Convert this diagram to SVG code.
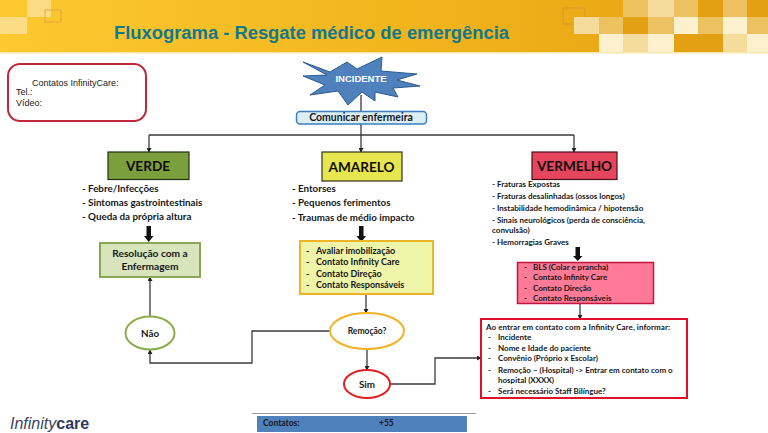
<svg xmlns="http://www.w3.org/2000/svg" width="768" height="433" viewBox="0 0 768 433">
<defs>
<linearGradient id="hdr" x1="0" y1="0" x2="1" y2="0"><stop offset="0" stop-color="#fcc92f"/><stop offset="0.6" stop-color="#f0b21a"/><stop offset="1" stop-color="#e3a010"/></linearGradient>
<marker id="tip" markerWidth="5" markerHeight="5" refX="4" refY="2.5" orient="auto" markerUnits="userSpaceOnUse"><path d="M0 0L4.500 2.500L0 5Z" fill="#222"/></marker>
</defs>
<style>
text{font-family:Lato,"Liberation Sans",sans-serif;font-weight:700;fill:#15181a}
.c{text-anchor:middle}
.line{fill:none;stroke:#3a3a3a;stroke-width:1.300}
.arr{marker-end:url(#tip)}
.head{font-size:13.600px;fill:#120c0c}
.l10{font-size:9.800px}
.l8{font-size:8px}
.l9{font-size:9px}
.reg{font-family:"Liberation Sans",sans-serif;font-weight:400;font-size:9px;fill:#222}
.a{fill:#edc060}.b{fill:#f6dc9c}.d{fill:#e2a012}.e{fill:#fdf0cc}
</style>
<rect width="768" height="433" fill="#fff"/>
<g id="header">
<rect width="768" height="52" fill="url(#hdr)"/>
<rect y="52" width="768" height="1.500" fill="#fbe6b0"/>
<rect x="27" y="0" width="24" height="17" fill="#fbdc85"/>
<rect x="0" y="17" width="27" height="17" fill="#fbdc85"/>
<rect x="45" y="10" width="16" height="12" fill="none" stroke="#e2a545" stroke-width="1"/>
<rect x="563" y="8" width="22" height="16" fill="none" stroke="#d99a30" stroke-width="1"/>
<rect class="a" x="623" y="0" width="25" height="17"/><rect class="b" x="648" y="0" width="26" height="17"/><rect class="a" x="674" y="0" width="24" height="17"/><rect class="d" x="698" y="0" width="25" height="17"/><rect class="a" x="723" y="0" width="24" height="17"/><rect class="d" x="747" y="0" width="21" height="17"/>
<rect class="b" x="574" y="17" width="25" height="17"/><rect class="a" x="599" y="17" width="24" height="17"/><rect class="d" x="623" y="17" width="25" height="17"/><rect class="a" x="648" y="17" width="26" height="17"/><rect class="e" x="674" y="17" width="24" height="17"/><rect class="a" x="698" y="17" width="25" height="17"/><rect class="e" x="723" y="17" width="24" height="17"/><rect class="a" x="747" y="17" width="21" height="17"/>
<rect class="e" x="599" y="34" width="24" height="18"/><rect class="b" x="623" y="34" width="25" height="18"/><rect class="e" x="648" y="34" width="26" height="18"/><rect class="d" x="674" y="34" width="49" height="18"/><rect class="b" x="723" y="34" width="24" height="18"/><rect class="e" x="747" y="34" width="21" height="18"/>
<text x="114" y="39" style="font-family:'Liberation Sans',sans-serif;font-size:18px;fill:#12788c" textLength="395" lengthAdjust="spacingAndGlyphs">Fluxograma - Resgate médico de emergência</text>
</g>
<g id="connectors">
<path class="line" d="M361 95V111"/>
<path class="line" d="M361 124V135"/>
<path class="line" d="M149 135H574"/>
<path class="line arr" d="M149 135V152"/>
<path class="line arr" d="M361 135V152"/>
<path class="line arr" d="M574 135V152"/>
<path class="line arr" d="M366 294V313"/>
<path class="line arr" d="M367 349V370"/>
<path class="line arr" d="M580 303V319"/>
<path class="line arr" d="M150 317V277"/>
<path class="line arr" d="M330 331H252V363H150V350"/>
<path class="line arr" d="M390 384H435V358H481"/>
<path fill="#111" d="M146.500 226h4.500v10h2.500l-4.700 6l-4.800-6h2.500z"/>
<path fill="#111" d="M359 226h4.500v10h2.500l-4.700 6l-4.800-6h2.500z"/>
<path fill="#111" d="M575.500 247h4.500v9h2.500l-4.700 5l-4.800-5h2.500z"/>
</g>
<g id="contatos">
<rect x="8" y="64" width="138" height="57" rx="12" fill="#fff" stroke="#c0283a" stroke-width="2"/>
<text class="reg" x="32" y="86">Contatos InfinityCare:</text>
<text class="reg" x="16" y="95">Tel.:</text>
<text class="reg" x="16" y="106">Vídeo:</text>
</g>
<g id="incidente">
<path fill="#4f81bd" stroke="#2c5a8f" stroke-width="1" d="M303 62L330 72L347 62L357 69L382 57L381 71L417 74L397 80L420 86L393 88L398 97L375 92L375 101L362 92L348 105L338 91L310 95L325 85L303 76L327 75Z"/>
<text class="c" x="361" y="82" style="font-size:9.500px;fill:#fff;font-family:'Liberation Sans',sans-serif;font-weight:700">INCIDENTE</text>
</g>
<g id="comunicar">
<rect x="296.500" y="111.500" width="130" height="12.500" rx="3.500" fill="#dbeef4" stroke="#3b7fc0" stroke-width="1.500"/>
<text class="c" x="361" y="121" style="font-size:10.500px">Comunicar enfermeira</text>
</g>
<g id="verde">
<rect x="108" y="152" width="81" height="27.500" fill="#7c9f3d" stroke="#1f3010" stroke-width="1.200"/>
<text class="c head" x="148" y="171">VERDE</text>
</g>
<g id="amarelo">
<rect x="322" y="152" width="80" height="29" fill="#e6e64f" stroke="#33331a" stroke-width="1.200"/>
<text class="c head" x="361.500" y="171.500">AMARELO</text>
</g>
<g id="vermelho">
<rect x="532" y="152" width="85" height="27.500" fill="#e5465e" stroke="#4a1018" stroke-width="1.200"/>
<text class="c head" x="574.500" y="170.500">VERMELHO</text>
</g>
<g id="lista-verde">
<text class="l10" x="82" y="192">- Febre/Infecções</text>
<text class="l10" x="82" y="206">- Sintomas gastrointestinais</text>
<text class="l10" x="82" y="220">- Queda da própria altura</text>
</g>
<g id="lista-amarelo">
<text class="l10" x="292" y="192">- Entorses</text>
<text class="l10" x="292" y="206">- Pequenos ferimentos</text>
<text class="l10" x="292" y="221">- Traumas de médio impacto</text>
</g>
<g id="lista-vermelho">
<text class="l8" x="492" y="187">- Fraturas Expostas</text>
<text class="l8" x="492" y="199">- Fraturas desalinhadas (ossos longos)</text>
<text class="l8" x="492" y="211">- Instabilidade hemodinâmica / hipotensão</text>
<text class="l8" x="492" y="223">- Sinais neurológicos (perda de consciência,</text>
<text class="l8" x="492" y="233">convulsão)</text>
<text class="l8" x="492" y="245">- Hemorragias Graves</text>
</g>
<g id="resolucao">
<rect x="100" y="243" width="100" height="34" fill="#d7e4bc" stroke="#8aa45a" stroke-width="2"/>
<text class="c" x="150" y="257" style="font-size:10.200px">Resolução com a</text>
<text class="c" x="150" y="270" style="font-size:10.200px">Enfermagem</text>
</g>
<g id="nao">
<ellipse cx="150" cy="333" rx="24.500" ry="16.500" fill="#fff" stroke="#8cad4a" stroke-width="2"/>
<text class="c l10" x="150" y="336.500">Não</text>
</g>
<g id="acoes-amarelo">
<rect x="300" y="241" width="133" height="53" fill="#eef5a8" stroke="#f0b429" stroke-width="2"/>
<text class="l9" x="306" y="254">-</text><text class="l9" x="316" y="254">Avaliar imobilização</text>
<text class="l9" x="306" y="265">-</text><text class="l9" x="316" y="265">Contato Infinity Care</text>
<text class="l9" x="306" y="277">-</text><text class="l9" x="316" y="277">Contato Direção</text>
<text class="l9" x="306" y="288">-</text><text class="l9" x="316" y="288">Contato Responsáveis</text>
</g>
<g id="remocao">
<ellipse cx="367" cy="331" rx="37" ry="18" fill="#fff" stroke="#f0b429" stroke-width="2"/>
<text class="c" x="367" y="334" style="font-size:8.500px">Remoção?</text>
</g>
<g id="sim">
<ellipse cx="367" cy="384" rx="23" ry="14" fill="#fff" stroke="#e02020" stroke-width="2"/>
<text class="c l10" x="367" y="387.500">Sim</text>
</g>
<g id="acoes-vermelho">
<rect x="517.500" y="262.500" width="136" height="41" fill="#ff7a96" stroke="#c0143c" stroke-width="1.500"/>
<text class="l8" x="524" y="270">-</text><text class="l8" x="533" y="270">BLS (Colar e prancha)</text>
<text class="l8" x="524" y="280">-</text><text class="l8" x="533" y="280">Contato Infinity Care</text>
<text class="l8" x="524" y="291">-</text><text class="l8" x="533" y="291">Contato Direção</text>
<text class="l8" x="524" y="301">-</text><text class="l8" x="533" y="301">Contato Responsáveis</text>
</g>
<g id="informar">
<rect x="481" y="319" width="206" height="79" fill="#fff" stroke="#e0102a" stroke-width="2"/>
<text class="l8" x="486" y="330" textLength="184">Ao entrar em contato com a Infinity Care, informar:</text>
<text class="l8" x="488" y="340">-</text><text class="l8" x="498" y="340">Incidente</text>
<text class="l8" x="488" y="351">-</text><text class="l8" x="498" y="351">Nome e Idade do paciente</text>
<text class="l8" x="488" y="361">-</text><text class="l8" x="498" y="361">Convênio (Próprio x Escolar)</text>
<text class="l8" x="488" y="373">-</text><text class="l8" x="498" y="373">Remoção – (Hospital) -&gt; Entrar em contato com o</text>
<text class="l8" x="498" y="383">hospital (XXXX)</text>
<text class="l8" x="488" y="394">-</text><text class="l8" x="498" y="394">Será necessário Staff Bilíngue?</text>
</g>
<g id="rodape">
<text x="10" y="429" style="font-family:'Liberation Sans',sans-serif;font-size:16px;font-weight:400;font-style:italic;fill:#3a4560">Infinity<tspan style="font-weight:700;font-style:normal;fill:#2c3a5c">care</tspan></text>
<rect x="252" y="413" width="224" height="1" fill="#999"/>
<rect x="257" y="416" width="210" height="16" fill="#4f81bd"/>
<text x="263" y="426" style="font-size:8.500px">Contatos:</text>
<text x="379" y="426" style="font-size:8.500px">+55</text>
</g>
</svg>
